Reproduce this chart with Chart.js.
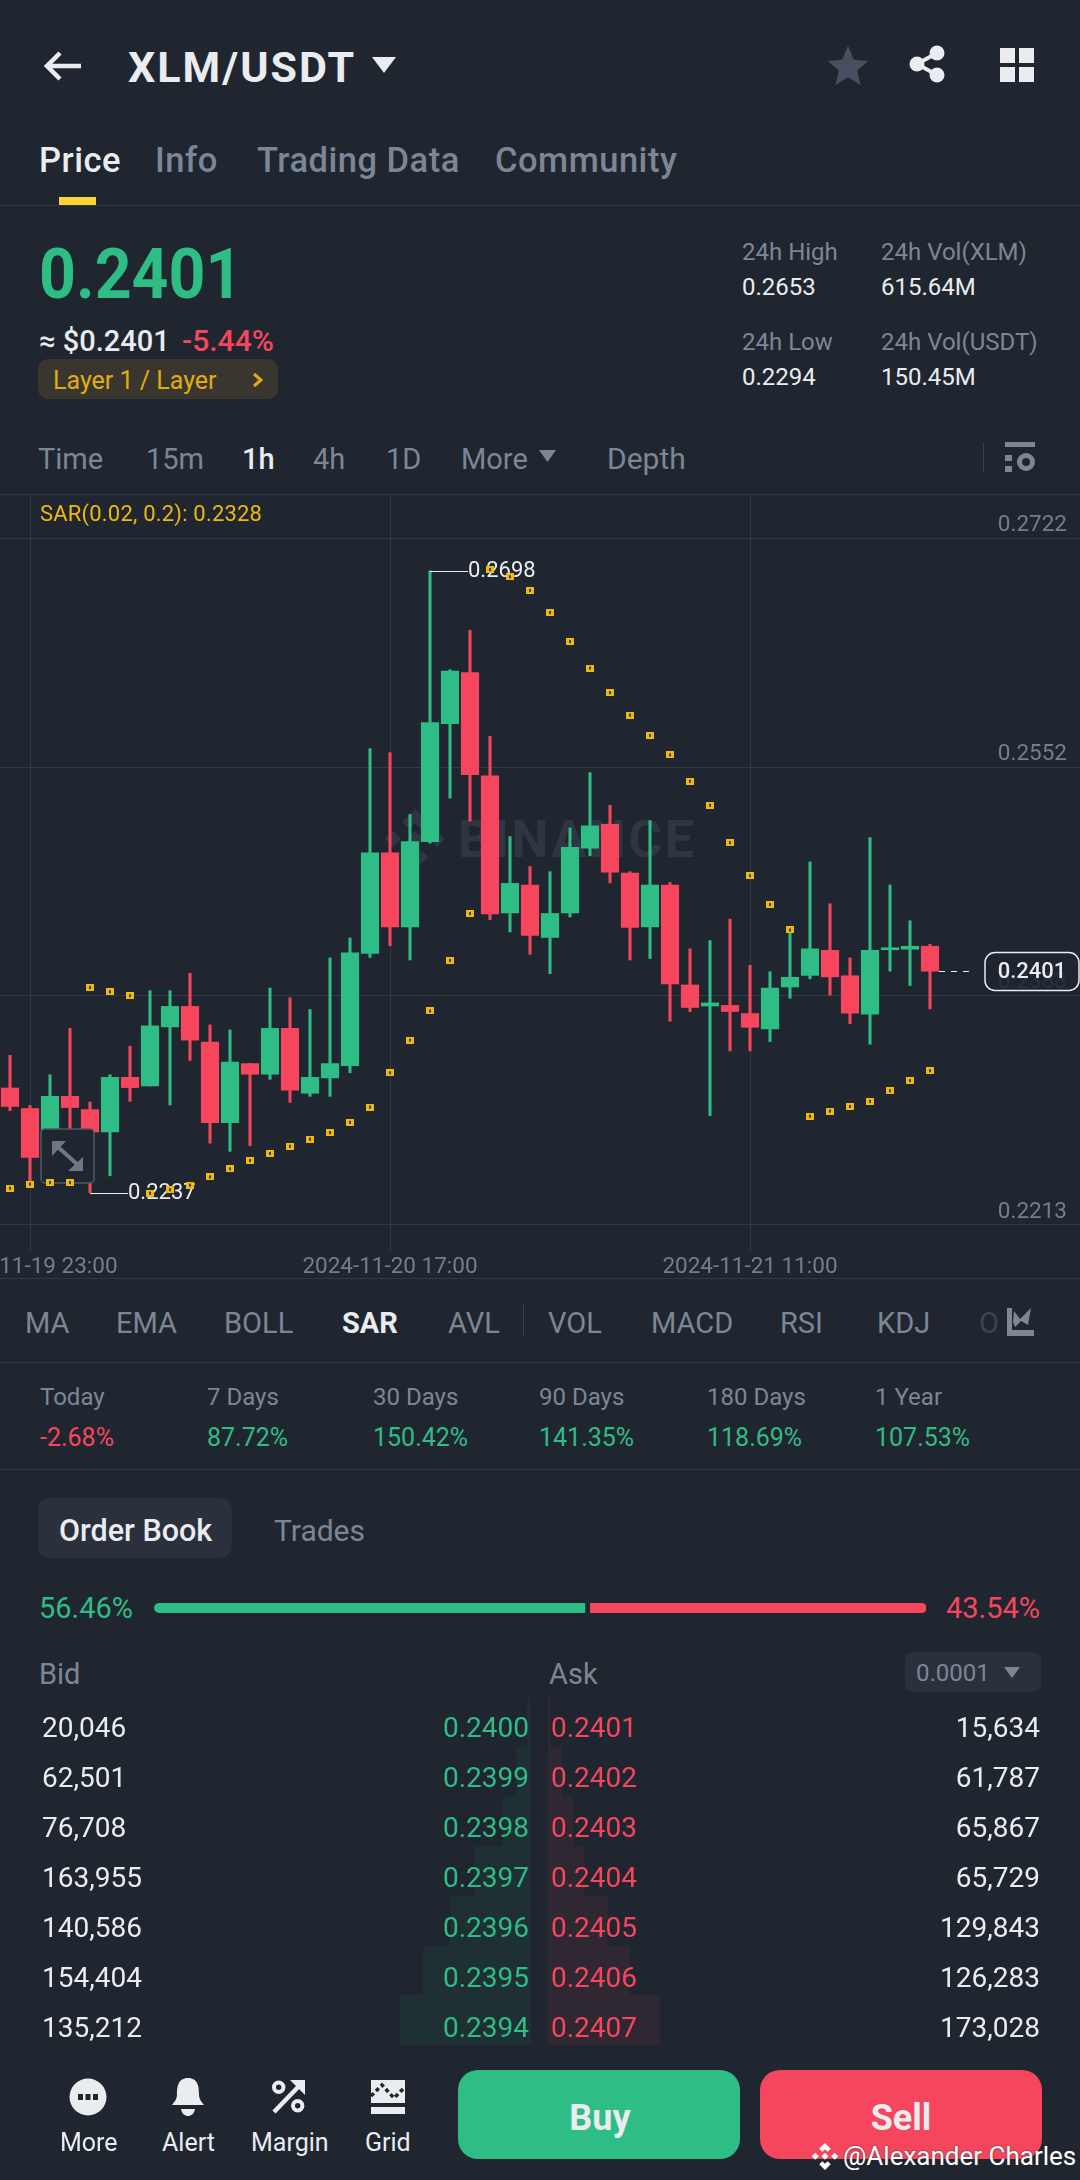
<!DOCTYPE html>
<html lang="en">
<head>
<meta charset="UTF-8">
<title>XLM/USDT</title>
<script src="https://cdn.jsdelivr.net/npm/chart.js"></script>
<style>
    html, body { margin: 0; padding: 0; background: #1f2630; }
    body { position: relative; width: 1080px; height: 2180px; overflow: hidden; font-family: Roboto, sans-serif; color: #eaecef; }
    .t { position: absolute; white-space: nowrap; line-height: 1; transform: translateY(-50%); }
    .box, canvas, svg { position: absolute; }
    .line { position: absolute; left: 0; width: 1080px; height: 1px; background: #313945; }
    .tab { font-size: 34.5px; font-weight: 500; color: #7d8694; letter-spacing: .5px; }
    .stat { font-size: 24px; color: #7d8694; }
    .val { font-size: 24px; color: #eaecef; }
    .iv { font-size: 29px; color: #7d8694; }
    .pct { font-size: 25px; }
    .book { font-size: 28px; }
    .act { font-size: 25px; color: #eaecef; }
    .green { color: #2ebd85; }
    .red { color: #f6465d; }
</style>
</head>
<body>
    <!-- header -->
    <svg style="left:44px;top:50px" width="38" height="32" viewBox="0 0 38 32"><path d="M16 3 L3 16 L16 29 M4 16 H37" fill="none" stroke="#eaecef" stroke-width="4.5"/></svg>
    <div class="t" style="left:128px;top:67px;font-size:43px;font-weight:700;letter-spacing:2px">XLM/USDT</div>
    <svg style="left:372px;top:56px" width="24" height="18"><path d="M0 1 H24 L12 17 Z" fill="#eaecef"/></svg>
    <svg style="left:826px;top:44px" width="44" height="44" viewBox="0 0 24 24"><path d="M12 1 L15.2 8.6 L23 9.3 L17 14.5 L18.8 22.4 L12 18.2 L5.2 22.4 L7 14.5 L1 9.3 L8.8 8.6 Z" fill="#475060"/></svg>
    <svg style="left:908px;top:45px" width="38" height="38" viewBox="0 0 38 38"><path d="M29 8 L9 19 L29 30" fill="none" stroke="#eaecef" stroke-width="4"/><circle cx="29" cy="8" r="7.5" fill="#eaecef"/><circle cx="9" cy="19" r="7.5" fill="#eaecef"/><circle cx="29" cy="30" r="7.5" fill="#eaecef"/></svg>
    <svg style="left:1000px;top:48px" width="34" height="34"><path d="M0 0 H15 V15 H0 Z M19 0 H34 V15 H19 Z M0 19 H15 V34 H0 Z M19 19 H34 V34 H19 Z" fill="#eaecef"/></svg>

    <div class="t tab" style="left:39px;top:160px;color:#eaecef">Price</div>
    <div class="t tab" style="left:155px;top:160px">Info</div>
    <div class="t tab" style="left:257px;top:160px">Trading Data</div>
    <div class="t tab" style="left:495px;top:160px">Community</div>
    <div class="box" style="left:59px;top:197px;width:37px;height:8px;background:#fcd535"></div>
    <div class="line" style="top:205px"></div>

    <!-- price block -->
    <div class="t green" style="left:39px;top:274px;font-size:70px;font-weight:700;transform-origin:left center;transform:translateY(-50%) scaleX(.92)">0.2401</div>
    <div class="t" style="left:39px;top:341px;font-size:29px;font-weight:500">≈ $0.2401</div>
    <div class="t red" style="left:182px;top:341px;font-size:30px;font-weight:500">-5.44%</div>
    <div class="box" style="left:38px;top:359px;width:240px;height:40px;border-radius:10px;background:#38362e"></div>
    <div class="t" style="left:53px;top:380px;font-size:25px;color:#e3ac0e">Layer 1 / Layer</div>
    <svg style="left:252px;top:372px" width="12" height="16"><path d="M2 2 L9 8 L2 14" fill="none" stroke="#e3ac0e" stroke-width="3"/></svg>
    <div class="t stat" style="left:742px;top:252px">24h High</div>
    <div class="t stat" style="left:881px;top:252px">24h Vol(XLM)</div>
    <div class="t val" style="left:742px;top:287px">0.2653</div>
    <div class="t val" style="left:881px;top:287px">615.64M</div>
    <div class="t stat" style="left:742px;top:342px">24h Low</div>
    <div class="t stat" style="left:881px;top:342px">24h Vol(USDT)</div>
    <div class="t val" style="left:742px;top:377px">0.2294</div>
    <div class="t val" style="left:881px;top:377px">150.45M</div>

    <!-- interval row -->
    <div class="t iv" style="left:38px;top:459px">Time</div>
    <div class="t iv" style="left:146px;top:459px">15m</div>
    <div class="t iv" style="left:242px;top:459px;color:#eaecef;font-weight:500">1h</div>
    <div class="t iv" style="left:313px;top:459px">4h</div>
    <div class="t iv" style="left:386px;top:459px">1D</div>
    <div class="t iv" style="left:461px;top:459px">More</div>
    <svg style="left:539px;top:450px" width="17" height="12"><path d="M0 0 H17 L8.5 12 Z" fill="#7d8694"/></svg>
    <div class="t iv" style="left:607px;top:459px;font-size:30px">Depth</div>
    <div class="box" style="left:983px;top:442px;width:1px;height:30px;background:#3a424e"></div>
    <svg style="left:1005px;top:442px" width="30" height="30"><path d="M0 0 H30 V5 H0 Z M0 13 H7 V19 H0 Z M0 24 H7 V30 H0 Z" fill="#7d8694"/><circle cx="21" cy="20" r="6.5" fill="none" stroke="#7d8694" stroke-width="5"/></svg>
    <div class="line" style="top:494px"></div>

    <!-- chart, watermark sits under the transparent canvas -->
    <svg style="left:384px;top:809px" width="62" height="61" viewBox="0 0 62 61"><path d="M31 0 L44 13 L37 20 L31 14 L25 20 L18 13 Z M31 61 L44 48 L37 41 L31 47 L25 41 L18 48 Z M9 22 L17 30 L9 38 L1 30 Z M53 22 L61 30 L53 38 L45 30 Z M31 22 L39 30 L31 38 L23 30 Z" fill="#2f3642"/></svg>
    <div class="t" style="left:458px;top:840px;font-size:52px;font-weight:700;letter-spacing:2.6px;color:#2f3642">BINANCE</div>
    <canvas id="priceChart" width="1080" height="781" style="left:0;top:497px"></canvas>
    <div class="t" style="left:40px;top:514px;font-size:22px;color:#f0b90b;letter-spacing:.2px">SAR(0.02, 0.2): 0.2328</div>
    <div class="line" style="top:1278px"></div>

    <!-- indicator row -->
    <div class="t iv" style="left:25px;top:1323px">MA</div>
    <div class="t iv" style="left:116px;top:1323px">EMA</div>
    <div class="t iv" style="left:224px;top:1323px">BOLL</div>
    <div class="t iv" style="left:342px;top:1323px;color:#eaecef;font-weight:700">SAR</div>
    <div class="t iv" style="left:448px;top:1323px">AVL</div>
    <div class="box" style="left:523px;top:1305px;width:1px;height:30px;background:#3a424e"></div>
    <div class="t iv" style="left:548px;top:1323px">VOL</div>
    <div class="t iv" style="left:651px;top:1323px">MACD</div>
    <div class="t iv" style="left:780px;top:1323px">RSI</div>
    <div class="t iv" style="left:877px;top:1323px">KDJ</div>
    <div class="t iv" style="left:979px;top:1323px;color:#3d4550">O</div>
    <svg style="left:1007px;top:1308px" width="27" height="28"><path d="M0 0 H5 V22 H27 V28 H0 Z M6 14 L7 3 L13 11 L24 0 L21 17 L14 13 L8 19 Z" fill="#7d8694"/></svg>
    <div class="line" style="top:1362px"></div>

    <div class="t stat" style="left:40px;top:1397px">Today</div>
    <div class="t stat" style="left:207px;top:1397px">7 Days</div>
    <div class="t stat" style="left:373px;top:1397px">30 Days</div>
    <div class="t stat" style="left:539px;top:1397px">90 Days</div>
    <div class="t stat" style="left:707px;top:1397px">180 Days</div>
    <div class="t stat" style="left:875px;top:1397px">1 Year</div>
    <div class="t pct red" style="left:40px;top:1437px">-2.68%</div>
    <div class="t pct green" style="left:207px;top:1437px">87.72%</div>
    <div class="t pct green" style="left:373px;top:1437px">150.42%</div>
    <div class="t pct green" style="left:539px;top:1437px">141.35%</div>
    <div class="t pct green" style="left:707px;top:1437px">118.69%</div>
    <div class="t pct green" style="left:875px;top:1437px">107.53%</div>
    <div class="line" style="top:1469px"></div>

    <!-- order book -->
    <div class="box" style="left:38px;top:1498px;width:194px;height:60px;border-radius:12px;background:#2a303c"></div>
    <div class="t" style="left:59px;top:1531px;font-size:30.5px;font-weight:500">Order Book</div>
    <div class="t" style="left:274px;top:1531px;font-size:30px;color:#7d8694">Trades</div>
    <div class="t green" style="left:39px;top:1608px;font-size:29px" id="bidRatio"></div>
    <canvas id="ratioChart" width="772" height="10" style="left:154px;top:1603px"></canvas>
    <div class="t red" style="right:40px;top:1608px;font-size:29px" id="askRatio"></div>
    <div class="t" style="left:39px;top:1674px;font-size:29px;color:#7d8694">Bid</div>
    <div class="t" style="left:549px;top:1674px;font-size:29px;color:#7d8694">Ask</div>
    <div class="box" style="left:905px;top:1652px;width:136px;height:40px;border-radius:8px;background:#2a303c"></div>
    <div class="t stat" style="left:916px;top:1673px">0.0001</div>
    <svg style="left:1004px;top:1667px" width="16" height="11"><path d="M0 0 H16 L8 11 Z" fill="#7d8694"/></svg>
    <canvas id="bidDepth" width="531" height="347" style="left:0;top:1698px"></canvas>
    <canvas id="askDepth" width="532" height="347" style="left:548px;top:1698px"></canvas>
    <div id="rows"></div>

    <!-- bottom bar -->
    <svg style="left:69px;top:2078px" width="38" height="38"><circle cx="19" cy="19" r="18.5" fill="#eaecef"/><path d="M9 16 h5 v6 h-5 Z M16.5 16 h5 v6 h-5 Z M24 16 h5 v6 h-5 Z" fill="#1f2630"/></svg>
    <svg style="left:170px;top:2078px" width="36" height="38"><path d="M18 0 C28 0 29 9 29 16 C29 22 32 24 34 27 H2 C4 24 7 22 7 16 C7 9 8 0 18 0 Z" fill="#eaecef"/><path d="M11 31 H25 C24 36 21 38 18 38 C15 38 12 36 11 31 Z" fill="#eaecef"/></svg>
    <svg style="left:272px;top:2080px" width="34" height="34"><circle cx="6.7" cy="7.3" r="4.7" fill="none" stroke="#eaecef" stroke-width="4"/><circle cx="25.7" cy="25.7" r="4.7" fill="none" stroke="#eaecef" stroke-width="4"/><path d="M2 32 L29 4" fill="none" stroke="#eaecef" stroke-width="4.5"/><path d="M18 0 H33 V15 Z" fill="#eaecef"/></svg>
    <svg style="left:371px;top:2080px" width="34" height="34"><path d="M0 0 H34 V23 H0 Z M0 27 H34 V34 H0 Z" fill="#eaecef"/><path d="M0 16 L11 5 L23 18 L34 7" fill="none" stroke="#1f2630" stroke-width="3.5" stroke-dasharray="4 3"/></svg>
    <div class="t act" style="left:60px;top:2142px">More</div>
    <div class="t act" style="left:162px;top:2142px">Alert</div>
    <div class="t act" style="left:251px;top:2142px">Margin</div>
    <div class="t act" style="left:365px;top:2142px">Grid</div>
    <div class="box" style="left:458px;top:2070px;width:282px;height:89px;border-radius:20px;background:#2ebd85"></div>
    <div class="t" style="left:600px;top:2118px;transform:translate(-50%,-50%);font-size:36px;font-weight:700;color:#eaecef">Buy</div>
    <div class="box" style="left:760px;top:2070px;width:282px;height:89px;border-radius:20px;background:#f6465d"></div>
    <div class="t" style="left:901px;top:2118px;transform:translate(-50%,-50%);font-size:36px;font-weight:700;color:#eaecef">Sell</div>
    <svg style="left:811px;top:2143px" width="28" height="27" viewBox="0 0 62 61"><path d="M31 0 L44 13 L37 20 L31 14 L25 20 L18 13 Z M31 61 L44 48 L37 41 L31 47 L25 41 L18 48 Z M9 22 L17 30 L9 38 L1 30 Z M53 22 L61 30 L53 38 L45 30 Z M31 22 L39 30 L31 38 L23 30 Z" fill="#fff"/></svg>
    <div class="t" style="left:843px;top:2156px;font-size:26px;color:#fff;text-shadow:0 0 2px #333">@Alexander Charles</div>

<script>
    // hourly candles
    const categories = [
        "2024-11-19 22:00","2024-11-19 23:00",
        "2024-11-20 00:00","2024-11-20 01:00","2024-11-20 02:00","2024-11-20 03:00","2024-11-20 04:00","2024-11-20 05:00",
        "2024-11-20 06:00","2024-11-20 07:00","2024-11-20 08:00","2024-11-20 09:00","2024-11-20 10:00","2024-11-20 11:00",
        "2024-11-20 12:00","2024-11-20 13:00","2024-11-20 14:00","2024-11-20 15:00","2024-11-20 16:00","2024-11-20 17:00",
        "2024-11-20 18:00","2024-11-20 19:00","2024-11-20 20:00","2024-11-20 21:00","2024-11-20 22:00","2024-11-20 23:00",
        "2024-11-21 00:00","2024-11-21 01:00","2024-11-21 02:00","2024-11-21 03:00","2024-11-21 04:00","2024-11-21 05:00",
        "2024-11-21 06:00","2024-11-21 07:00","2024-11-21 08:00","2024-11-21 09:00","2024-11-21 10:00","2024-11-21 11:00",
        "2024-11-21 12:00","2024-11-21 13:00","2024-11-21 14:00","2024-11-21 15:00","2024-11-21 16:00","2024-11-21 17:00",
        "2024-11-21 18:00","2024-11-21 19:00","2024-11-21 20:00","2024-11-21 21:00","2024-11-21 22:00","2024-11-21 23:00",
        "2024-11-22 00:00","2024-11-22 01:00","2024-11-22 02:00","2024-11-22 03:00"
    ];
    const opens = [.23145,.22993,.2266,.23083,.22985,.22819,.23224,.2316,.23598,.2375,.23485,.22887,.23326,.23247,.23587,.23106,.2322,.23311,.24143,.24889,.2434,.24972,.25846,.26225,.2546,.24443,.2465,.24261,.24443,.24923,.25101,.24738,.2434,.2465,.23909,.23753,.23757,.23697,.23583,.23894,.2398,.24166,.23977,.23693,.2417,.24174,.24196];
    const highs = [.23387,.23015,.23243,.23587,.23042,.23243,.23455,.23867,.23867,.23996,.23613,.23576,.23326,.23886,.23814,.23727,.2411,.24257,.25661,.25631,.25173,.2698,.26247,.26539,.25752,.2501,.24787,.24749,.25073,.25483,.25241,.24749,.25127,.24669,.24177,.24238,.24397,.24055,.24007,.24295,.24821,.24511,.2411,.25002,.2465,.24385,.2421];
    const lows = [.22977,.22433,.22584,.2266,.2237,.22494,.23046,.2316,.23019,.23349,.22736,.22675,.22717,.23209,.23038,.23083,.23083,.23258,.24113,.242,.24094,.24961,.25294,.25124,.24393,.24302,.24136,.23993,.24413,.24866,.24666,.24094,.24105,.2364,.23712,.2294,.2342,.2342,.23489,.2381,.23954,.23833,.23621,.2347,.24011,.23905,.23731];
    const closes = [.23008,.2263,.23083,.23,.22819,.23224,.23148,.23606,.2375,.235,.22887,.23337,.23247,.23587,.23129,.23224,.23326,.24148,.24889,.2434,.24972,.25854,.26236,.25468,.24435,.24662,.24276,.24439,.2493,.25089,.24745,.24336,.2465,.23916,.23742,.23776,.23712,.23595,.23886,.23966,.24177,.23969,.237,.24166,.24185,.24196,.24011];
    const sarValues = [.22402,.22433,.22444,.22444,.2389,.23859,.23829,.22365,.22391,.22425,.22486,.22546,.22607,.2266,.22713,.22766,.22815,.22891,.23004,.23258,.235,.23716,.24091,.24439,.26989,.26936,.26834,.26671,.26456,.26259,.26077,.2591,.25759,.25615,.25419,.25241,.24964,.24719,.24506,.24317,.22936,.22974,.23008,.23046,.23125,.232,.23273];
    const yTicks = [.2722,.2552,.2383,.2213];
    const xTickIndexes = [1,19,37];

    const bidPrices = ["0.2400","0.2399","0.2398","0.2397","0.2396","0.2395","0.2394"];
    const bidSizes = [20046,62501,76708,163955,140586,154404,135212];
    const askPrices = ["0.2401","0.2402","0.2403","0.2404","0.2405","0.2406","0.2407"];
    const askSizes = [15634,61787,65867,65729,129843,126283,173028];
    const bidShare = 56.46;
    const askShare = 43.54;

    const GREEN = "#2ebd85", RED = "#f6465d", BG = "#1f2630", GRID = "#313945", AXIS = "#767e8c";

    Chart.defaults.font.family = "Roboto, sans-serif";
    Chart.defaults.animation = false;
    Chart.defaults.plugins.legend.display = false;
    Chart.defaults.plugins.tooltip.enabled = false;

    const candleColors = opens.map((o, i) => closes[i] >= o ? GREEN : RED);

    // SAR dot: small yellow block with a dark centre
    const sarDot = document.createElement("canvas");
    sarDot.width = 8; sarDot.height = 7;
    const dotCtx = sarDot.getContext("2d");
    dotCtx.fillStyle = "#f0b90b";
    dotCtx.fillRect(0, 0, 8, 7);
    dotCtx.fillStyle = "#3a3a28";
    dotCtx.fillRect(3, 2, 2, 3);

    // things that sit between the candles and the SAR dots
    const overlays = {
        id: "overlays",
        beforeDatasetDraw(chart, args) {
            if (args.index !== 2) return;
            const ctx = chart.ctx, x = chart.scales.x, y = chart.scales.y;
            const marks = [[highs.indexOf(Math.max(...highs)), Math.max(...highs)], [lows.indexOf(Math.min(...lows)), Math.min(...lows)]];
            ctx.save();
            // expand button
            ctx.fillStyle = BG;
            ctx.strokeStyle = "#505866";
            ctx.lineWidth = 1.5;
            ctx.beginPath();
            ctx.roundRect(41, 632, 53, 54, 4);
            ctx.fill();
            ctx.stroke();
            ctx.fillStyle = ctx.strokeStyle = "#6f7785";
            ctx.beginPath();
            ctx.moveTo(52, 644); ctx.lineTo(66, 644); ctx.lineTo(52, 659);
            ctx.moveTo(83, 660); ctx.lineTo(83, 674); ctx.lineTo(68, 674);
            ctx.fill();
            ctx.lineWidth = 4;
            ctx.beginPath();
            ctx.moveTo(58, 650); ctx.lineTo(78, 668);
            ctx.stroke();
            // high and low labels
            ctx.strokeStyle = ctx.fillStyle = "#eaecef";
            ctx.lineWidth = 1;
            ctx.font = "22px Roboto";
            ctx.textBaseline = "middle";
            marks.forEach(m => {
                const px = x.getPixelForValue(m[0]), py = Math.round(y.getPixelForValue(m[1])) + .5;
                ctx.beginPath();
                ctx.moveTo(px, py);
                ctx.lineTo(px + 38, py);
                ctx.stroke();
                ctx.fillText(m[1].toFixed(4), px + 38, py);
            });
            ctx.restore();
        },
        afterDraw(chart) {
            const ctx = chart.ctx, last = closes.length - 1;
            const px = chart.scales.x.getPixelForValue(last), py = Math.round(chart.scales.y.getPixelForValue(closes[last])) + .5;
            ctx.save();
            ctx.strokeStyle = "#eaecef";
            ctx.lineWidth = 1;
            ctx.setLineDash([6, 6]);
            ctx.beginPath();
            ctx.moveTo(px + 9, py);
            ctx.lineTo(975, py);
            ctx.stroke();
            ctx.setLineDash([]);
            ctx.fillStyle = "rgba(31,38,48,.88)";
            ctx.lineWidth = 1.5;
            ctx.beginPath();
            ctx.roundRect(985, py - 19, 94, 38, 10);
            ctx.fill();
            ctx.stroke();
            ctx.fillStyle = "#eaecef";
            ctx.font = "500 22px Roboto";
            ctx.textAlign = "center";
            ctx.textBaseline = "middle";
            ctx.fillText(closes[last].toFixed(4), 1032, py + 1);
            ctx.restore();
        }
    };

    new Chart(document.getElementById("priceChart"), {
        type: "bar",
        plugins: [overlays],
        data: {
            labels: categories,
            datasets: [
                { data: highs.map((h, i) => [lows[i], h]), backgroundColor: candleColors, barThickness: 2.4, grouped: false, order: 3 },
                { data: opens.map((o, i) => [o, closes[i]]), backgroundColor: candleColors, barThickness: 17.5, grouped: false, order: 2 },
                { type: "line", data: sarValues, showLine: false, pointStyle: sarDot, pointRadius: 4, clip: false, order: 1 }
            ]
        },
        options: {
            responsive: false,
            layout: { padding: 0, autoPadding: false },
            scales: {
                x: {
                    offset: true,
                    border: { display: false },
                    afterFit(scale) { scale.height = 26; scale.paddingLeft = 0; scale.paddingRight = 0; },
                    grid: {
                        offset: false,
                        drawTicks: false,
                        tickLength: 0,
                        color: ctx => xTickIndexes.includes(ctx.index) ? GRID : "transparent"
                    },
                    ticks: {
                        autoSkip: false,
                        minRotation: 0,
                        maxRotation: 0,
                        padding: 2,
                        color: AXIS,
                        font: { size: 22.5 },
                        callback(v, i) { return xTickIndexes.includes(i) ? this.getLabelForValue(v) : ""; }
                    }
                },
                y: {
                    position: "right",
                    min: .21929,
                    max: .27527,
                    border: { display: false },
                    afterFit(scale) { scale.width = 0; scale.paddingTop = 0; scale.paddingBottom = 0; },
                    afterBuildTicks(scale) { scale.ticks = yTicks.map(v => ({ value: v })); },
                    grid: { drawTicks: false, tickLength: 0, color: GRID },
                    ticks: {
                        mirror: true,
                        padding: -13,
                        labelOffset: -13,
                        color: AXIS,
                        font: { size: 22.5 },
                        callback: v => v.toFixed(4)
                    }
                }
            }
        }
    });

    // order book rows
    const rows = document.getElementById("rows");
    bidSizes.forEach((b, i) => {
        const top = 1728 + i * 50;
        rows.insertAdjacentHTML("beforeend",
            `<div class="t book" style="left:42px;top:${top}px">${b.toLocaleString("en-US")}</div>` +
            `<div class="t book green" style="left:443px;top:${top}px">${bidPrices[i]}</div>` +
            `<div class="t book red" style="left:551px;top:${top}px">${askPrices[i]}</div>` +
            `<div class="t book" style="right:40px;top:${top}px">${askSizes[i].toLocaleString("en-US")}</div>`);
    });
    document.getElementById("bidRatio").textContent = bidShare.toFixed(2) + "%";
    document.getElementById("askRatio").textContent = askShare.toFixed(2) + "%";

    // shaded cumulative depth behind the prices
    function cumulate(sizes) {
        let sum = 0;
        return sizes.map(s => sum += s);
    }
    function depthChart(id, sizes, color, reverse) {
        new Chart(document.getElementById(id), {
            type: "bar",
            data: {
                labels: bidPrices,
                datasets: [{ data: cumulate(sizes), backgroundColor: color, barPercentage: 1, categoryPercentage: 1 }]
            },
            options: {
                responsive: false,
                indexAxis: "y",
                scales: {
                    x: { display: false, min: 0, max: 3055000, reverse: reverse },
                    y: { display: false }
                }
            }
        });
    }
    depthChart("bidDepth", bidSizes, "rgba(46,189,133,.07)", true);
    depthChart("askDepth", askSizes, "rgba(246,70,93,.08)", false);

    // buy / sell ratio bar
    new Chart(document.getElementById("ratioChart"), {
        type: "bar",
        data: {
            labels: ["ratio"],
            datasets: [
                { data: [bidShare], backgroundColor: GREEN, borderColor: BG, borderWidth: { right: 5 }, borderSkipped: false, borderRadius: { topLeft: 5, bottomLeft: 5 }, barPercentage: 1, categoryPercentage: 1 },
                { data: [askShare], backgroundColor: RED, borderWidth: 0, borderSkipped: false, borderRadius: { topRight: 5, bottomRight: 5 }, barPercentage: 1, categoryPercentage: 1 }
            ]
        },
        options: {
            responsive: false,
            indexAxis: "y",
            scales: {
                x: { display: false, stacked: true, min: 0, max: 100 },
                y: { display: false, stacked: true }
            }
        }
    });
</script>
</body>
</html>
